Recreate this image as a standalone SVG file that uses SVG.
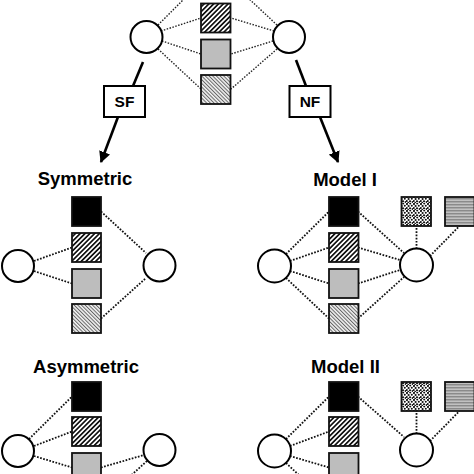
<svg xmlns="http://www.w3.org/2000/svg" width="474" height="474" viewBox="0 0 474 474">
<style>
.c{fill:#fff;stroke:#000;stroke-width:2}
.sq{stroke:#111;stroke-width:1.8}
.blk{fill:#000}
.ha{fill:url(#hatchA)}
.gr{fill:#bdbdbd}
.hc{fill:url(#hatchC)}
.st{fill:url(#stip)}
.hs{fill:url(#hstripe)}
.d{stroke:#111;stroke-width:1.8;stroke-dasharray:1.7 1.5;fill:none}
.dt{stroke:#222;stroke-width:1.4;stroke-dasharray:1.5 1.5;fill:none}
.ar{stroke:#000;stroke-width:2.6;fill:none}
.box{fill:#fff;stroke:#000;stroke-width:2}
.lbl{font-family:"Liberation Sans",Arial,sans-serif;font-weight:bold;font-size:18.5px;text-anchor:middle;fill:#000}
.bl{font-family:"Liberation Sans",Arial,sans-serif;font-weight:bold;font-size:15.5px;text-anchor:middle;fill:#000}
</style>
<defs>
<pattern id="hatchA" patternUnits="userSpaceOnUse" width="3.4" height="3.4" patternTransform="rotate(45)">
<rect width="3.4" height="3.4" fill="#fff"/>
<rect width="1.7" height="3.4" fill="#111"/>
</pattern>
<pattern id="hatchC" patternUnits="userSpaceOnUse" width="2.6" height="2.6" patternTransform="rotate(-45)">
<rect width="2.6" height="2.6" fill="#f2f2f2"/>
<rect width="1" height="2.6" fill="#666"/>
</pattern>
<pattern id="stip" patternUnits="userSpaceOnUse" width="7" height="7">
<rect width="7" height="7" fill="#fff"/>
<circle cx="1" cy="1" r="1.1" fill="#111"/>
<circle cx="4.2" cy="0.6" r="1" fill="#111"/>
<circle cx="2.6" cy="3" r="1.1" fill="#111"/>
<circle cx="5.8" cy="2.8" r="1" fill="#111"/>
<circle cx="0.8" cy="5" r="1" fill="#111"/>
<circle cx="4" cy="5.3" r="1.1" fill="#111"/>
<circle cx="6.5" cy="6" r="0.9" fill="#111"/>
<circle cx="2.2" cy="6.6" r="0.8" fill="#111"/>
</pattern>
<pattern id="hstripe" patternUnits="userSpaceOnUse" width="4" height="3">
<rect width="4" height="3" fill="#a8a8a8"/>
<rect y="0" width="4" height="1" fill="#8a8a8a"/>
<rect y="2" width="4" height="0.8" fill="#c8c8c8"/>
</pattern>
<marker id="ah" viewBox="0 0 10 10" refX="9" refY="5" markerWidth="4.4" markerHeight="4.4" orient="auto" markerUnits="strokeWidth">
<path d="M0,0 L10,5 L0,10 z" fill="#000"/>
</marker>
</defs>

<g id="connectors">
<!-- top -->
<line class="dt" x1="158" y1="25" x2="201" y2="-18"/>
<line class="dt" x1="161" y1="31" x2="201" y2="18"/>
<line class="dt" x1="162" y1="41" x2="201" y2="54"/>
<line class="dt" x1="158" y1="49" x2="201" y2="89"/>
<line class="dt" x1="277" y1="25" x2="231" y2="-18"/>
<line class="dt" x1="274" y1="31" x2="231" y2="18"/>
<line class="dt" x1="273" y1="41" x2="231" y2="54"/>
<line class="dt" x1="277" y1="49" x2="231" y2="89"/>
<!-- SF / NF arrows -->
<line class="ar" x1="143" y1="62" x2="133" y2="86"/>
<line class="ar" x1="118" y1="117" x2="101" y2="162" marker-end="url(#ah)"/>
<line class="ar" x1="296" y1="60" x2="306" y2="86"/>
<line class="ar" x1="320" y1="117" x2="338" y2="162" marker-end="url(#ah)"/>
<!-- Symmetric -->
<line class="d" x1="34" y1="261" x2="72" y2="247.5"/>
<line class="d" x1="34" y1="271" x2="72" y2="283.5"/>
<line class="d" x1="101" y1="211.5" x2="146" y2="253"/>
<line class="d" x1="101" y1="318.5" x2="146" y2="278"/>
<!-- Model I -->
<line class="d" x1="286" y1="254" x2="329" y2="211.5"/>
<line class="d" x1="290" y1="261" x2="329" y2="247.5"/>
<line class="d" x1="290" y1="271" x2="329" y2="283.5"/>
<line class="d" x1="286" y1="278" x2="329" y2="318.5"/>
<line class="d" x1="358" y1="211.5" x2="404" y2="253"/>
<line class="d" x1="358" y1="247.5" x2="400" y2="260"/>
<line class="d" x1="358" y1="283.5" x2="400" y2="270"/>
<line class="d" x1="358" y1="318.5" x2="404" y2="277"/>
<line class="d" x1="416.5" y1="249" x2="416.5" y2="226"/>
<line class="d" x1="430" y1="256" x2="459.5" y2="226"/>
<!-- Asymmetric -->
<line class="d" x1="29" y1="439" x2="72" y2="396.5"/>
<line class="d" x1="34" y1="446" x2="72" y2="431.5"/>
<line class="d" x1="34" y1="456" x2="72" y2="467.5"/>
<line class="d" x1="101" y1="467.5" x2="144" y2="455"/>
<line class="d" x1="147" y1="461" x2="101" y2="502.5"/>
<!-- Model II -->
<line class="d" x1="286" y1="439" x2="329" y2="396.5"/>
<line class="d" x1="290" y1="446" x2="329" y2="431.5"/>
<line class="d" x1="290" y1="456" x2="329" y2="467.5"/>
<line class="d" x1="286" y1="463" x2="329" y2="503"/>
<line class="d" x1="358" y1="396.5" x2="404" y2="437"/>
<line class="d" x1="416.5" y1="434" x2="416.5" y2="411"/>
<line class="d" x1="430" y1="441" x2="459.5" y2="411"/>
</g>

<g id="top">
<circle class="c" cx="146.5" cy="37" r="16"/>
<circle class="c" cx="289" cy="37" r="16"/>
<rect class="sq ha" x="201" y="3.5" width="29.5" height="29"/>
<rect class="sq gr" x="201" y="39.5" width="29.5" height="29"/>
<rect class="sq hc" x="201" y="75" width="29.5" height="29"/>
</g>

<g id="sf">
<rect class="box" x="104" y="86" width="41" height="31"/>
<text class="bl" x="124.5" y="107">SF</text>
</g>
<g id="nf">
<rect class="box" x="289.5" y="86" width="41" height="31"/>
<text class="bl" x="310" y="107">NF</text>
</g>

<g id="symmetric">
<text class="lbl" x="85" y="185">Symmetric</text>
<circle class="c" cx="18" cy="266" r="16"/>
<circle class="c" cx="159.5" cy="265.5" r="16"/>
<rect class="sq blk" x="72" y="197" width="29" height="29"/>
<rect class="sq ha" x="72" y="233" width="29" height="29"/>
<rect class="sq gr" x="72" y="269" width="29" height="29"/>
<rect class="sq hc" x="72" y="304" width="29" height="29"/>
</g>

<g id="model1">
<text class="lbl" x="345" y="186">Model I</text>
<circle class="c" cx="274.5" cy="266" r="16.5"/>
<circle class="c" cx="416.5" cy="265" r="16.5"/>
<rect class="sq blk" x="329" y="197" width="29.5" height="29"/>
<rect class="sq ha" x="329" y="233" width="29.5" height="29"/>
<rect class="sq gr" x="329" y="269" width="29.5" height="29"/>
<rect class="sq hc" x="329" y="304" width="29.5" height="29"/>
<rect class="sq st" x="401.5" y="197" width="29.5" height="29"/>
<rect class="sq hs" x="445" y="197" width="29.5" height="29"/>
</g>

<g id="asymmetric">
<text class="lbl" x="86" y="373">Asymmetric</text>
<circle class="c" cx="18" cy="451" r="16"/>
<circle class="c" cx="159.5" cy="450" r="16"/>
<rect class="sq blk" x="72" y="382" width="29" height="29"/>
<rect class="sq ha" x="72" y="417" width="29" height="29"/>
<rect class="sq gr" x="72" y="453" width="29" height="29"/>
</g>

<g id="model2">
<text class="lbl" x="345.5" y="373">Model II</text>
<circle class="c" cx="274.5" cy="451" r="16.5"/>
<circle class="c" cx="416.5" cy="450" r="16.5"/>
<rect class="sq blk" x="329" y="382" width="29.5" height="29"/>
<rect class="sq ha" x="329" y="417" width="29.5" height="29"/>
<rect class="sq gr" x="329" y="453" width="29.5" height="29"/>
<rect class="sq st" x="401.5" y="382" width="29.5" height="29"/>
<rect class="sq hs" x="445" y="382" width="29.5" height="29"/>
</g>
</svg>
